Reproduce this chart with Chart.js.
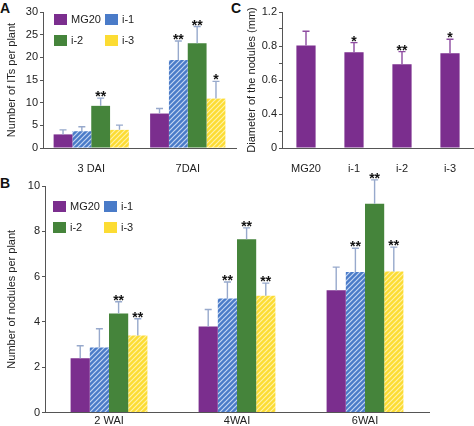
<!DOCTYPE html>
<html>
<head>
<meta charset="utf-8">
<script src="https://cdn.jsdelivr.net/npm/chart.js@4.4.0/dist/chart.umd.min.js"></script>
<style>
  body { margin: 0; background: #fff; width: 474px; height: 426px; position: relative; overflow: hidden;
         font-family: 'Liberation Sans', Arial, sans-serif; }
  canvas { position: absolute; }
  .panel { position: absolute; font-weight: bold; font-size: 14px; color: #111; line-height: 14px; }
  .item { position: absolute; font-size: 11px; color: #222; line-height: 11px; white-space: nowrap; }
  .sw { display: inline-block; width: 13px; height: 11px; vertical-align: top; margin-right: 4px; }
</style>
</head>
<body>
<div class="panel" style="left:0px;top:1px">A</div>
<div class="panel" style="left:231px;top:1px">C</div>
<div class="panel" style="left:0px;top:176px">B</div>
<canvas id="chartA" width="240" height="178" style="left:0;top:0"></canvas>
<canvas id="chartC" width="234" height="178" style="left:240px;top:0"></canvas>
<canvas id="chartB" width="474" height="254" style="left:0;top:172px"></canvas>
<div id="legendA"></div>
<div id="legendB"></div>
<script>
// ---- data ----
const seriesNames = ['MG20', 'i-1', 'i-2', 'i-3'];

// A: infection threads
const itCategories = ['3 DAI', '7DAI'];
const itMG20 = [3.0, 7.6];
const itI1 = [3.7, 19.4];
const itI2 = [9.3, 23.1];
const itI3 = [4.0, 10.9];
const itMG20Err = [1.0, 1.1];
const itI1Err = [1.0, 4.2];
const itI2Err = [1.7, 3.7];
const itI3Err = [1.05, 3.8];
const itStars = [['', ''], ['', '**'], ['**', '**'], ['', '*']];

// B: nodule number
const nodCategories = ['2 WAI', '4WAI', '6WAI'];
const nodMG20 = [2.4, 3.8, 5.4];
const nodI1 = [2.87, 5.03, 6.2];
const nodI2 = [4.37, 7.65, 9.22];
const nodI3 = [3.4, 5.16, 6.22];
const nodMG20Err = [0.55, 0.75, 1.02];
const nodI1Err = [0.83, 0.73, 1.05];
const nodI2Err = [0.52, 0.5, 1.05];
const nodI3Err = [0.74, 0.55, 1.08];
const nodStars = [['', '', ''], ['', '**', '**'], ['**', '**', '**'], ['**', '**', '**']];

// C: nodule diameter
const diamCategories = ['MG20', 'i-1', 'i-2', 'i-3'];
const diamValues = [0.905, 0.845, 0.74, 0.835];
const diamErr = [0.125, 0.085, 0.11, 0.125];
const diamStars = ['', '*', '**', '*'];
const diamTickLabels = ['0', '0.4', '0.6', '0.8', '1.2'];

// ---- style ----
const colors = ['#7b2e8e', '#4a7bc8', '#45843b', '#fcdc33'];
const hatchLines = [null, '#c4d6f3', null, '#fff2a8'];
const errColor = '#97a9cc';
const axisColor = '#555';
const textColor = '#222';
const font = { family: "'Liberation Sans', Arial, sans-serif", size: 11 };

function makeHatch(canvas, base, line) {
  const c = document.createElement('canvas');
  c.width = 5; c.height = 5;
  const g = c.getContext('2d');
  g.fillStyle = base;
  g.fillRect(0, 0, 5, 5);
  g.strokeStyle = line;
  g.lineWidth = 1.2;
  g.beginPath();
  g.moveTo(-1, 6); g.lineTo(6, -1);
  g.moveTo(-1, 1); g.lineTo(1, -1);
  g.moveTo(4, 6); g.lineTo(6, 4);
  g.stroke();
  return canvas.getContext('2d').createPattern(c, 'repeat');
}

// error bars (upper half) and significance stars
const errorBarPlugin = {
  id: 'errorBars',
  afterDatasetsDraw(chart) {
    const ctx = chart.ctx;
    const yScale = chart.scales.y;
    chart.data.datasets.forEach((ds, di) => {
      const meta = chart.getDatasetMeta(di);
      meta.data.forEach((bar, i) => {
        const top = yScale.getPixelForValue(ds.data[i] + ds.errors[i]);
        ctx.save();
        ctx.strokeStyle = ds.errColor;
        ctx.lineWidth = 1.4;
        ctx.beginPath();
        ctx.moveTo(bar.x, bar.y);
        ctx.lineTo(bar.x, top);
        ctx.moveTo(bar.x - 3.5, top);
        ctx.lineTo(bar.x + 3.5, top);
        ctx.stroke();
        const star = ds.stars[i];
        if (star) {
          ctx.fillStyle = '#111';
          ctx.font = "bold 14px 'Liberation Sans', Arial, sans-serif";
          ctx.textAlign = 'center';
          ctx.textBaseline = 'alphabetic';
          ctx.fillText(star, bar.x, top + 3);
        }
        ctx.restore();
      });
    });
  }
};

function groupedDatasets(canvas, values, errors, stars, catPct) {
  return values.map((vals, k) => ({
    label: seriesNames[k],
    data: vals,
    errors: errors[k],
    stars: stars[k],
    errColor: errColor,
    backgroundColor: hatchLines[k] ? makeHatch(canvas, colors[k], hatchLines[k]) : colors[k],
    borderWidth: 0,
    barPercentage: 1.0,
    categoryPercentage: catPct
  }));
}

function buildChart(canvas, cfg) {
  return new Chart(canvas, {
    type: 'bar',
    data: { labels: cfg.labels, datasets: cfg.datasets },
    options: {
      animation: false,
      responsive: false,
      layout: { padding: { top: cfg.top, right: cfg.right, left: 0, bottom: 0 } },
      plugins: { legend: { display: false }, tooltip: { enabled: false } },
      scales: {
        x: {
          grid: { display: true, drawOnChartArea: false, drawTicks: false },
          border: { display: true, color: axisColor, width: 1 },
          ticks: { color: textColor, font: font, padding: cfg.xPad, maxRotation: 0 },
          afterFit: s => { s.height = cfg.xHeight; }
        },
        y: {
          min: 0,
          max: cfg.max,
          ticks: { stepSize: cfg.step, color: textColor, font: font, padding: 2, autoSkip: false,
                   callback: cfg.tickCb || (v => v) },
          grid: { drawOnChartArea: false, tickLength: 3, color: axisColor },
          border: { display: true, color: axisColor, width: 1 },
          title: { display: true, text: cfg.title, color: textColor, font: font, padding: { top: 5, bottom: 0 } },
          afterFit: s => { s.width = cfg.yWidth; }
        }
      }
    },
    plugins: [errorBarPlugin]
  });
}

function drawLegend(id, left, top) {
  const box = document.getElementById(id);
  seriesNames.forEach((name, k) => {
    const d = document.createElement('div');
    d.className = 'item';
    d.style.left = (left + (k % 2) * 51) + 'px';
    d.style.top = (top + Math.floor(k / 2) * 21) + 'px';
    d.innerHTML = '<span class="sw" style="background:' + colors[k] + '"></span>' + name;
    box.appendChild(d);
  });
}

// ---- charts ----
const canvasA = document.getElementById('chartA');
buildChart(canvasA, {
  labels: itCategories,
  datasets: groupedDatasets(canvasA, [itMG20, itI1, itI2, itI3],
                            [itMG20Err, itI1Err, itI2Err, itI3Err], itStars, 0.78),
  top: 12, right: 4, xHeight: 30, xPad: 14, yWidth: 43,
  max: 30, step: 5, title: 'Number of ITs per plant'
});

const canvasB = document.getElementById('chartB');
buildChart(canvasB, {
  labels: nodCategories,
  datasets: groupedDatasets(canvasB, [nodMG20, nodI1, nodI2, nodI3],
                            [nodMG20Err, nodI1Err, nodI2Err, nodI3Err], nodStars, 0.6),
  top: 14, right: 45, xHeight: 13.5, xPad: 2, yWidth: 45,
  max: 10, step: 2, title: 'Number of nodules per plant'
});

const canvasC = document.getElementById('chartC');
buildChart(canvasC, {
  labels: diamCategories,
  datasets: [{
    label: 'Diameter',
    data: diamValues,
    errors: diamErr,
    stars: diamStars,
    errColor: '#8d4ba0',
    backgroundColor: colors[0],
    borderWidth: 0,
    barPercentage: 0.4,
    categoryPercentage: 1.0
  }],
  top: 12, right: 0, xHeight: 30, xPad: 14, yWidth: 42,
  max: 1.2, step: 0.15, title: 'Diameter of the nodules (mm)',
  tickCb: (v, i) => (i % 2 === 0 ? diamTickLabels[i / 2] : '')
});

drawLegend('legendA', 54, 14);
drawLegend('legendB', 53, 201);
</script>
</body>
</html>
